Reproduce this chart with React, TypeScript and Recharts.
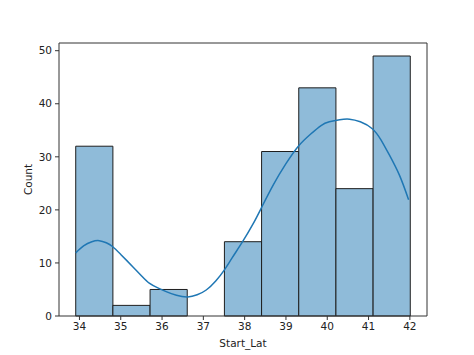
import React from "react"
import {
  ComposedChart,
  Line,
  XAxis,
  YAxis,
  ReferenceArea,
  ReferenceLine,
} from "recharts"

// histogram bins (Start_Lat), 9 bins
const binEdges = [33.91, 34.81, 35.71, 36.61, 37.51, 38.41, 39.31, 40.21, 41.11, 42.01]
const binCounts = [32, 2, 5, 0, 14, 31, 43, 24, 49]

// kde curve
const kdeX = [
  33.91, 34.1, 34.3, 34.48, 34.65, 34.8, 35.0, 35.29, 35.5, 35.69, 35.9, 36.1,
  36.35, 36.62, 36.85, 37.07, 37.3, 37.51, 37.7, 37.95, 38.2, 38.4, 38.7, 39.0,
  39.3, 39.6, 39.85, 40.05, 40.3, 40.54, 40.8, 41.09, 41.3, 41.5, 41.75, 41.97,
]
const kdeY = [
  11.9, 13.2, 14.0, 14.2, 13.8, 13.1, 11.6, 9.3, 7.6, 6.2, 5.3, 4.6,
  3.9, 3.6, 4.0, 4.9, 6.6, 8.7, 11.0, 14.0, 17.3, 20.3, 24.8, 28.7,
  32.0, 34.3, 35.9, 36.6, 37.0, 37.1, 36.6, 35.3, 33.2, 30.4, 26.5, 21.9,
]

const xTicks = [34, 35, 36, 37, 38, 39, 40, 41, 42]
const yTicks = [0, 10, 20, 30, 40, 50]

const xMin = 33.505
const xMax = 42.415
const yMax = 51.45

const kdeData = kdeX.map((x, i) => ({ x, y: kdeY[i] }))

const tickStyle = { fontSize: 10.5, fill: "#222", fontFamily: "DejaVu Sans" }

export default function App() {
  return (
    <div style={{ position: "absolute", left: 0, top: 0, width: 474, height: 355, background: "#fff" }}>
      <ComposedChart
        width={474}
        height={355}
        margin={{ top: 43, right: 47, left: 0, bottom: 0 }}
      >
        <XAxis
          dataKey="x"
          type="number"
          domain={[xMin, xMax]}
          ticks={xTicks}
          allowDataOverflow
          height={39}
          tickSize={4}
          tickMargin={3}
          tick={tickStyle}
          axisLine={{ stroke: "#333" }}
          tickLine={{ stroke: "#333" }}
          label={{
            value: "Start_Lat",
            position: "insideBottom",
            offset: 8,
            style: { fontSize: 10.5, fill: "#222", fontFamily: "DejaVu Sans" },
          }}
        />
        <YAxis
          type="number"
          domain={[0, yMax]}
          ticks={yTicks}
          allowDataOverflow
          width={59}
          tickSize={4}
          tickMargin={3}
          tick={tickStyle}
          axisLine={{ stroke: "#333" }}
          tickLine={{ stroke: "#333" }}
          label={{
            value: "Count",
            angle: -90,
            position: "insideLeft",
            offset: 28,
            style: { fontSize: 10.5, fill: "#222", fontFamily: "DejaVu Sans", textAnchor: "middle" },
          }}
        />

        {/* histogram bars */}
        {binCounts.map((c, i) =>
          c > 0 ? (
            <ReferenceArea
              key={i}
              x1={binEdges[i]}
              x2={binEdges[i + 1]}
              y1={0}
              y2={c}
              fill="#8fbbd9"
              fillOpacity={1}
              stroke="#1e1e1e"
              strokeWidth={1}
              strokeOpacity={1}
            />
          ) : null
        )}

        {/* top / right spines */}
        <ReferenceLine y={yMax} stroke="#333" />
        <ReferenceLine x={xMax} stroke="#333" />

        {/* kde */}
        <Line
          data={kdeData}
          dataKey="y"
          type="natural"
          stroke="#1f77b4"
          strokeWidth={1.5}
          dot={false}
          isAnimationActive={false}
        />
      </ComposedChart>
    </div>
  )
}
